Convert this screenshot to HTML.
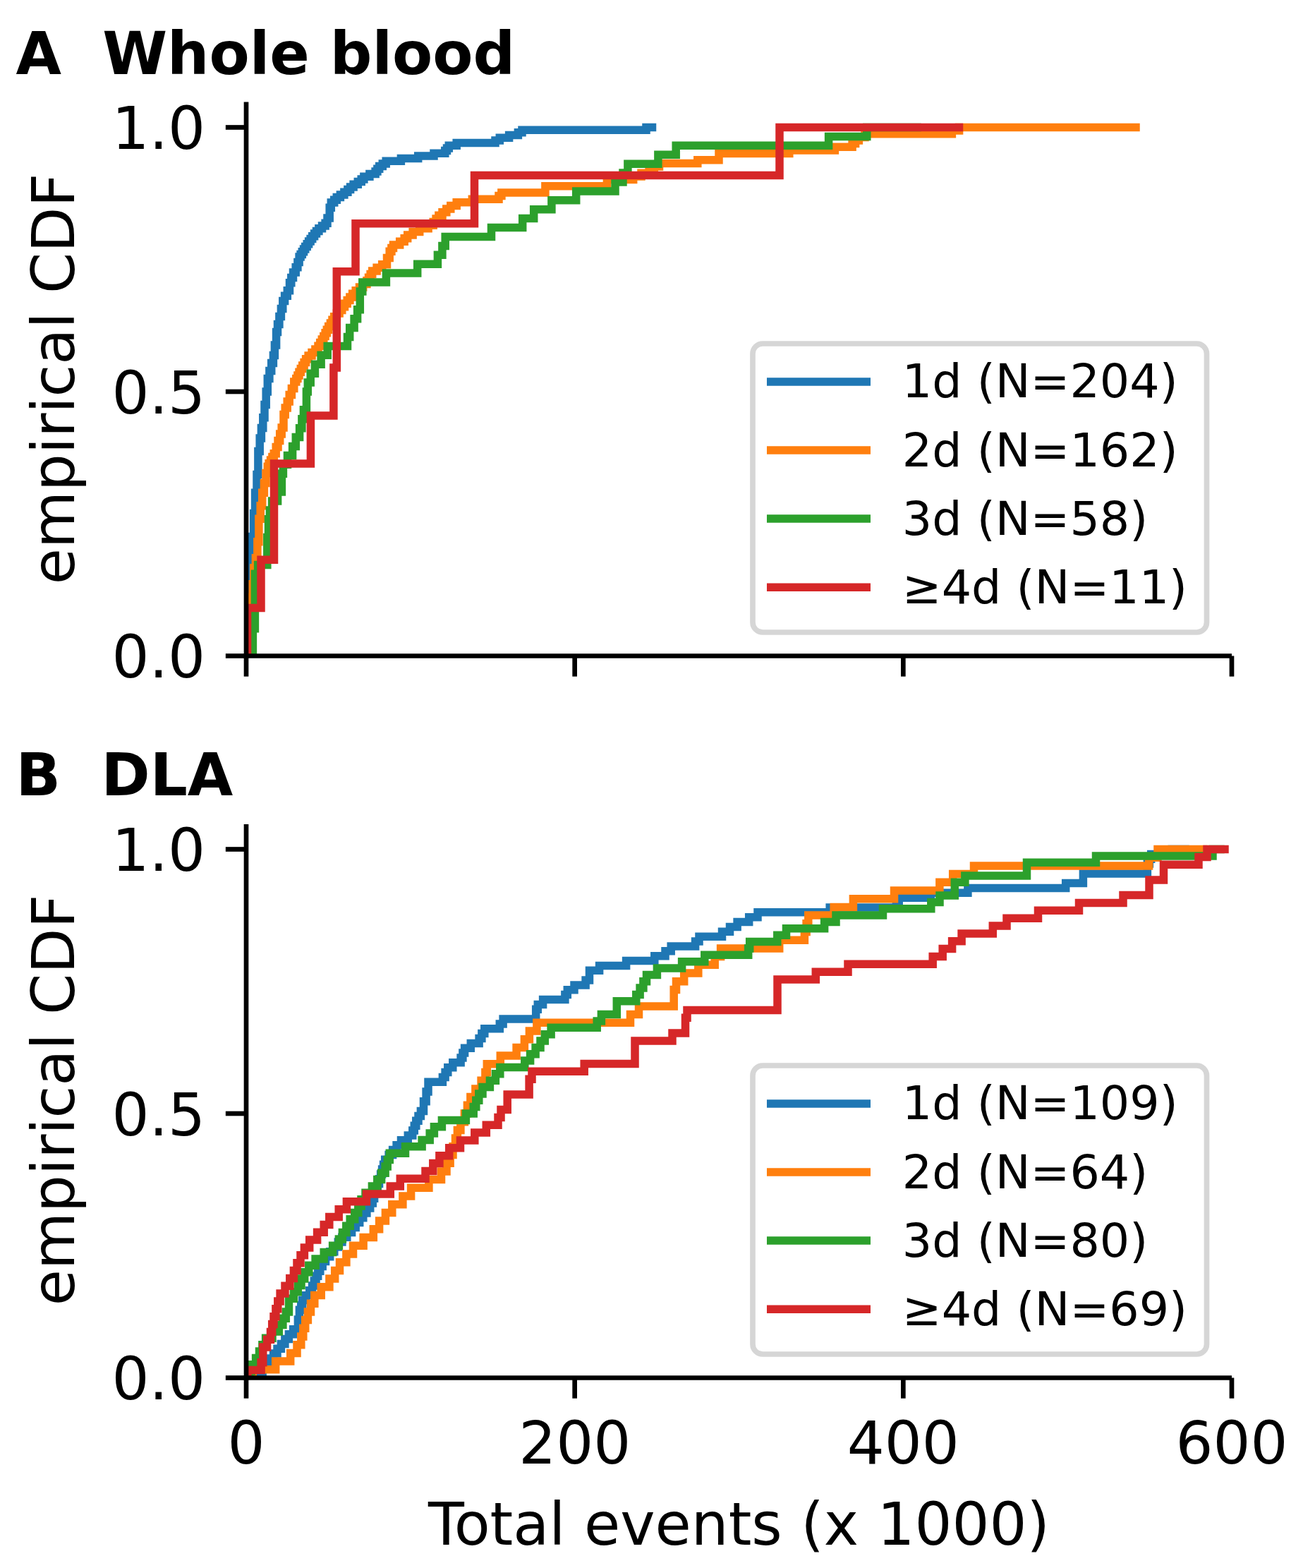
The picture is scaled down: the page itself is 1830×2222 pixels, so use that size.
<!DOCTYPE html>
<html><head><meta charset="utf-8"><title>ECDF</title>
<style>html,body{margin:0;padding:0;background:#fff;} #fig{width:1830px;height:2222px;} svg{display:block;}</style>
</head><body><div id="fig">
<svg width="1830" height="2222" viewBox="0 0 1830 2222">
<rect x="0" y="0" width="1830" height="2222" fill="#ffffff"/>
<clipPath id="clip0"><rect x="349.0" y="144.5" width="1397.0" height="785.0"/></clipPath>
<path d="M350.9,929.5 L350.9,925.8 L350.9,925.8 L350.9,922.2 L350.9,922.2 L350.9,918.5 L350.9,918.5 L350.9,914.8 L350.9,914.8 L350.9,911.1 L350.9,911.1 L350.9,907.5 L350.9,907.5 L350.9,903.8 L350.9,903.8 L350.9,900.1 L350.9,900.1 L350.9,896.5 L350.9,896.5 L350.9,892.8 L350.9,892.8 L350.9,889.1 L350.9,889.1 L350.9,885.4 L350.9,885.4 L350.9,881.8 L350.9,881.8 L350.9,878.1 L350.9,878.1 L350.9,874.4 L350.9,874.4 L350.9,870.8 L350.9,870.8 L350.9,867.1 L350.9,867.1 L350.9,863.4 L350.9,863.4 L350.9,859.7 L350.9,859.7 L350.9,856.1 L350.9,856.1 L350.9,852.4 L353.2,852.4 L353.2,848.7 L353.2,848.7 L353.2,845.1 L353.2,845.1 L353.2,841.4 L353.2,841.4 L353.2,837.7 L353.2,837.7 L353.2,834.0 L353.2,834.0 L353.2,830.4 L353.2,830.4 L353.2,826.7 L353.2,826.7 L353.2,823.0 L355.4,823.0 L355.4,819.4 L355.4,819.4 L355.4,815.7 L355.4,815.7 L355.4,812.0 L355.4,812.0 L355.4,808.3 L355.4,808.3 L355.4,804.7 L355.4,804.7 L355.4,801.0 L355.4,801.0 L355.4,797.3 L355.4,797.3 L355.4,793.7 L357.5,793.7 L357.5,790.0 L357.5,790.0 L357.5,786.3 L357.5,786.3 L357.5,782.6 L357.5,782.6 L357.5,779.0 L357.5,779.0 L357.5,775.3 L357.5,775.3 L357.5,771.6 L357.5,771.6 L357.5,768.0 L357.5,768.0 L357.5,764.3 L357.5,764.3 L357.5,760.6 L359.6,760.6 L359.6,756.9 L359.6,756.9 L359.6,753.3 L359.6,753.3 L359.6,749.6 L359.6,749.6 L359.6,745.9 L359.6,745.9 L359.6,742.2 L359.6,742.2 L359.6,738.6 L359.6,738.6 L359.6,734.9 L359.6,734.9 L359.6,731.2 L359.6,731.2 L359.6,727.6 L361.6,727.6 L361.6,723.9 L361.6,723.9 L361.6,720.2 L361.6,720.2 L361.6,716.5 L361.6,716.5 L361.6,712.9 L361.6,712.9 L361.6,709.2 L361.6,709.2 L361.6,705.5 L361.6,705.5 L361.6,701.9 L361.6,701.9 L361.6,698.2 L364.0,698.2 L364.0,694.5 L364.0,694.5 L364.0,690.8 L364.0,690.8 L364.0,687.2 L364.0,687.2 L364.0,683.5 L364.0,683.5 L364.0,679.8 L364.0,679.8 L364.0,676.2 L364.0,676.2 L364.0,672.5 L365.9,672.5 L365.9,668.8 L365.9,668.8 L365.9,665.1 L365.9,665.1 L365.9,661.5 L365.9,661.5 L365.9,657.8 L365.9,657.8 L365.9,654.1 L365.9,654.1 L365.9,650.5 L365.9,650.5 L365.9,646.8 L365.9,646.8 L365.9,643.1 L365.9,643.1 L365.9,639.4 L368.2,639.4 L368.2,635.8 L368.2,635.8 L368.2,632.1 L368.2,632.1 L368.2,628.4 L368.2,628.4 L368.2,624.8 L368.2,624.8 L368.2,621.1 L370.4,621.1 L370.4,617.4 L370.4,617.4 L370.4,613.7 L370.4,613.7 L370.4,610.1 L370.4,610.1 L370.4,606.4 L372.8,606.4 L372.8,602.7 L372.8,602.7 L372.8,599.1 L372.8,599.1 L372.8,595.4 L372.8,595.4 L372.8,591.7 L375.0,591.7 L375.0,588.0 L375.0,588.0 L375.0,584.4 L375.0,584.4 L375.0,580.7 L375.0,580.7 L375.0,577.0 L375.0,577.0 L375.0,573.4 L377.2,573.4 L377.2,569.7 L377.2,569.7 L377.2,566.0 L377.2,566.0 L377.2,562.3 L377.2,562.3 L377.2,558.7 L377.2,558.7 L377.2,555.0 L379.3,555.0 L379.3,551.3 L379.3,551.3 L379.3,547.7 L379.3,547.7 L379.3,544.0 L379.3,544.0 L379.3,540.3 L379.3,540.3 L379.3,536.6 L381.9,536.6 L381.9,533.0 L381.9,533.0 L381.9,529.3 L381.9,529.3 L381.9,525.6 L384.7,525.6 L384.7,522.0 L384.7,522.0 L384.7,518.3 L384.7,518.3 L384.7,514.6 L387.4,514.6 L387.4,510.9 L387.4,510.9 L387.4,507.3 L387.4,507.3 L387.4,503.6 L389.4,503.6 L389.4,499.9 L389.4,499.9 L389.4,496.3 L389.4,496.3 L389.4,492.6 L389.4,492.6 L389.4,488.9 L391.6,488.9 L391.6,485.2 L391.6,485.2 L391.6,481.6 L391.6,481.6 L391.6,477.9 L391.6,477.9 L391.6,474.2 L391.6,474.2 L391.6,470.6 L393.5,470.6 L393.5,466.9 L393.5,466.9 L393.5,463.2 L393.5,463.2 L393.5,459.5 L395.9,459.5 L395.9,455.9 L395.9,455.9 L395.9,452.2 L395.9,452.2 L395.9,448.5 L398.4,448.5 L398.4,444.9 L398.4,444.9 L398.4,441.2 L398.4,441.2 L398.4,437.5 L400.8,437.5 L400.8,433.8 L400.8,433.8 L400.8,430.2 L400.8,430.2 L400.8,426.5 L403.6,426.5 L403.6,422.8 L403.6,422.8 L403.6,419.2 L407.3,419.2 L407.3,415.5 L407.3,415.5 L407.3,411.8 L410.5,411.8 L410.5,408.1 L410.5,408.1 L410.5,404.5 L410.5,404.5 L410.5,400.8 L412.8,400.8 L412.8,397.1 L412.8,397.1 L412.8,393.5 L415.5,393.5 L415.5,389.8 L415.5,389.8 L415.5,386.1 L419.2,386.1 L419.2,382.4 L419.2,382.4 L419.2,378.8 L421.9,378.8 L421.9,375.1 L421.9,375.1 L421.9,371.4 L424.1,371.4 L424.1,367.8 L424.1,367.8 L424.1,364.1 L426.1,364.1 L426.1,360.4 L428.3,360.4 L428.3,356.7 L430.5,356.7 L430.5,353.1 L432.7,353.1 L432.7,349.4 L435.2,349.4 L435.2,345.7 L437.6,345.7 L437.6,342.0 L440.1,342.0 L440.1,338.4 L442.7,338.4 L442.7,334.7 L445.6,334.7 L445.6,331.0 L448.5,331.0 L448.5,327.4 L451.9,327.4 L451.9,323.7 L456.5,323.7 L456.5,320.0 L461.1,320.0 L461.1,316.3 L464.0,316.3 L464.0,312.7 L464.0,312.7 L464.0,309.0 L467.2,309.0 L467.2,305.3 L467.2,305.3 L467.2,301.7 L467.2,301.7 L467.2,298.0 L467.2,298.0 L467.2,294.3 L469.3,294.3 L469.3,290.6 L469.3,290.6 L469.3,287.0 L473.7,287.0 L473.7,283.3 L477.3,283.3 L477.3,279.6 L482.4,279.6 L482.4,276.0 L487.9,276.0 L487.9,272.3 L492.9,272.3 L492.9,268.6 L496.6,268.6 L496.6,264.9 L501.1,264.9 L501.1,261.3 L507.3,261.3 L507.3,257.6 L512.2,257.6 L512.2,253.9 L515.9,253.9 L515.9,250.3 L523.9,250.3 L523.9,246.6 L532.1,246.6 L532.1,242.9 L534.9,242.9 L534.9,239.2 L537.7,239.2 L537.7,235.6 L542.3,235.6 L542.3,231.9 L547.2,231.9 L547.2,228.2 L568.4,228.2 L568.4,224.6 L592.7,224.6 L592.7,220.9 L615.0,220.9 L615.0,217.2 L630.8,217.2 L630.8,213.5 L633.5,213.5 L633.5,209.9 L636.3,209.9 L636.3,206.2 L647.2,206.2 L647.2,202.5 L702.0,202.5 L702.0,198.9 L708.3,198.9 L708.3,195.2 L721.6,195.2 L721.6,191.5 L734.4,191.5 L734.4,187.8 L740.0,187.8 L740.0,184.2 L916.0,184.2 L916.0,180.5 L924.5,180.5" fill="none" stroke="#1f77b4" stroke-width="11.5" stroke-linejoin="miter" stroke-miterlimit="10" stroke-linecap="square" clip-path="url(#clip0)"/>
<path d="M352.8,929.5 L352.8,924.9 L352.8,924.9 L352.8,920.3 L352.8,920.3 L352.8,915.6 L352.8,915.6 L352.8,911.0 L352.8,911.0 L352.8,906.4 L352.8,906.4 L352.8,901.8 L352.8,901.8 L352.8,897.1 L352.8,897.1 L352.8,892.5 L352.8,892.5 L352.8,887.9 L352.8,887.9 L352.8,883.3 L352.8,883.3 L352.8,878.6 L352.8,878.6 L352.8,874.0 L352.8,874.0 L352.8,869.4 L352.8,869.4 L352.8,864.8 L355.1,864.8 L355.1,860.1 L355.1,860.1 L355.1,855.5 L355.1,855.5 L355.1,850.9 L355.1,850.9 L355.1,846.3 L358.0,846.3 L358.0,841.7 L358.0,841.7 L358.0,837.0 L358.0,837.0 L358.0,832.4 L358.0,832.4 L358.0,827.8 L359.8,827.8 L359.8,823.2 L359.8,823.2 L359.8,818.5 L359.8,818.5 L359.8,813.9 L359.8,813.9 L359.8,809.3 L359.8,809.3 L359.8,804.7 L362.4,804.7 L362.4,800.0 L362.4,800.0 L362.4,795.4 L362.4,795.4 L362.4,790.8 L364.9,790.8 L364.9,786.2 L364.9,786.2 L364.9,781.5 L364.9,781.5 L364.9,776.9 L364.9,776.9 L364.9,772.3 L364.9,772.3 L364.9,767.7 L366.9,767.7 L366.9,763.1 L366.9,763.1 L366.9,758.4 L366.9,758.4 L366.9,753.8 L366.9,753.8 L366.9,749.2 L366.9,749.2 L366.9,744.6 L366.9,744.6 L366.9,739.9 L366.9,739.9 L366.9,735.3 L369.2,735.3 L369.2,730.7 L369.2,730.7 L369.2,726.1 L369.2,726.1 L369.2,721.4 L369.2,721.4 L369.2,716.8 L371.7,716.8 L371.7,712.2 L371.7,712.2 L371.7,707.6 L371.7,707.6 L371.7,703.0 L371.7,703.0 L371.7,698.3 L374.4,698.3 L374.4,693.7 L374.4,693.7 L374.4,689.1 L374.4,689.1 L374.4,684.5 L377.0,684.5 L377.0,679.8 L377.0,679.8 L377.0,675.2 L377.0,675.2 L377.0,670.6 L379.3,670.6 L379.3,666.0 L379.3,666.0 L379.3,661.3 L381.1,661.3 L381.1,656.7 L383.5,656.7 L383.5,652.1 L385.9,652.1 L385.9,647.5 L388.3,647.5 L388.3,642.8 L391.2,642.8 L391.2,638.2 L391.2,638.2 L391.2,633.6 L394.0,633.6 L394.0,629.0 L394.0,629.0 L394.0,624.4 L396.7,624.4 L396.7,619.7 L396.7,619.7 L396.7,615.1 L399.2,615.1 L399.2,610.5 L399.2,610.5 L399.2,605.9 L402.0,605.9 L402.0,601.2 L402.0,601.2 L402.0,596.6 L402.0,596.6 L402.0,592.0 L402.0,592.0 L402.0,587.4 L404.2,587.4 L404.2,582.7 L404.2,582.7 L404.2,578.1 L407.2,578.1 L407.2,573.5 L407.2,573.5 L407.2,568.9 L410.2,568.9 L410.2,564.2 L410.2,564.2 L410.2,559.6 L413.4,559.6 L413.4,555.0 L413.4,555.0 L413.4,550.4 L416.8,550.4 L416.8,545.8 L416.8,545.8 L416.8,541.1 L419.8,541.1 L419.8,536.5 L421.9,536.5 L421.9,531.9 L424.0,531.9 L424.0,527.3 L426.3,527.3 L426.3,522.6 L428.7,522.6 L428.7,518.0 L431.1,518.0 L431.1,513.4 L433.6,513.4 L433.6,508.8 L437.1,508.8 L437.1,504.1 L442.0,504.1 L442.0,499.5 L446.9,499.5 L446.9,494.9 L451.0,494.9 L451.0,490.3 L453.7,490.3 L453.7,485.6 L456.3,485.6 L456.3,481.0 L458.8,481.0 L458.8,476.4 L461.1,476.4 L461.1,471.8 L463.3,471.8 L463.3,467.2 L465.7,467.2 L465.7,462.5 L468.4,462.5 L468.4,457.9 L471.0,457.9 L471.0,453.3 L473.7,453.3 L473.7,448.7 L477.4,448.7 L477.4,444.0 L481.1,444.0 L481.1,439.4 L484.8,439.4 L484.8,434.8 L488.5,434.8 L488.5,430.2 L492.2,430.2 L492.2,425.5 L495.9,425.5 L495.9,420.9 L499.6,420.9 L499.6,416.3 L504.2,416.3 L504.2,411.7 L509.5,411.7 L509.5,407.0 L514.7,407.0 L514.7,402.4 L519.9,402.4 L519.9,397.8 L522.5,397.8 L522.5,393.2 L525.1,393.2 L525.1,388.6 L527.7,388.6 L527.7,383.9 L534.1,383.9 L534.1,379.3 L541.7,379.3 L541.7,374.7 L548.5,374.7 L548.5,370.1 L548.5,370.1 L548.5,365.4 L552.2,365.4 L552.2,360.8 L552.2,360.8 L552.2,356.2 L554.9,356.2 L554.9,351.6 L557.5,351.6 L557.5,346.9 L566.7,346.9 L566.7,342.3 L573.2,342.3 L573.2,337.7 L577.7,337.7 L577.7,333.1 L585.1,333.1 L585.1,328.5 L594.7,328.5 L594.7,323.8 L607.1,323.8 L607.1,319.2 L614.2,319.2 L614.2,314.6 L618.1,314.6 L618.1,310.0 L621.9,310.0 L621.9,305.3 L627.0,305.3 L627.0,300.7 L632.8,300.7 L632.8,296.1 L638.8,296.1 L638.8,291.5 L647.2,291.5 L647.2,286.8 L669.3,286.8 L669.3,282.2 L707.0,282.2 L707.0,277.6 L710.9,277.6 L710.9,273.0 L772.9,273.0 L772.9,268.3 L772.9,268.3 L772.9,263.7 L860.4,263.7 L860.4,259.1 L860.4,259.1 L860.4,254.5 L897.7,254.5 L897.7,249.9 L909.0,249.9 L909.0,245.2 L920.1,245.2 L920.1,240.6 L927.3,240.6 L927.3,236.0 L934.5,236.0 L934.5,231.4 L988.8,231.4 L988.8,226.7 L1019.0,226.7 L1019.0,222.1 L1019.0,222.1 L1019.0,217.5 L1118.8,217.5 L1118.8,212.9 L1183.4,212.9 L1183.4,208.2 L1208.1,208.2 L1208.1,203.6 L1212.6,203.6 L1212.6,199.0 L1217.4,199.0 L1217.4,194.4 L1226.0,194.4 L1226.0,189.7 L1349.4,189.7 L1349.4,185.1 L1359.6,185.1 L1359.6,180.5 L1610.0,180.5" fill="none" stroke="#ff7f0e" stroke-width="11.5" stroke-linejoin="miter" stroke-miterlimit="10" stroke-linecap="square" clip-path="url(#clip0)"/>
<path d="M358.4,929.5 L358.4,916.6 L358.4,916.6 L358.4,903.7 L358.4,903.7 L358.4,890.8 L361.4,890.8 L361.4,877.8 L361.4,877.8 L361.4,864.9 L361.4,864.9 L361.4,852.0 L361.4,852.0 L361.4,839.1 L361.4,839.1 L361.4,826.2 L361.4,826.2 L361.4,813.3 L365.6,813.3 L365.6,800.4 L378.8,800.4 L378.8,787.4 L378.8,787.4 L378.8,774.5 L378.8,774.5 L378.8,761.6 L380.5,761.6 L380.5,748.7 L380.5,748.7 L380.5,735.8 L382.4,735.8 L382.4,722.9 L385.6,722.9 L385.6,710.0 L393.6,710.0 L393.6,697.1 L399.4,697.1 L399.4,684.1 L399.4,684.1 L399.4,671.2 L401.4,671.2 L401.4,658.3 L407.5,658.3 L407.5,645.4 L414.6,645.4 L414.6,632.5 L419.3,632.5 L419.3,619.6 L424.6,619.6 L424.6,606.7 L427.9,606.7 L427.9,593.7 L430.4,593.7 L430.4,580.8 L434.4,580.8 L434.4,567.9 L434.4,567.9 L434.4,555.0 L436.3,555.0 L436.3,542.1 L440.2,542.1 L440.2,529.2 L446.4,529.2 L446.4,516.3 L455.1,516.3 L455.1,503.3 L464.2,503.3 L464.2,490.4 L492.5,490.4 L492.5,477.5 L495.7,477.5 L495.7,464.6 L502.1,464.6 L502.1,451.7 L506.6,451.7 L506.6,438.8 L510.3,438.8 L510.3,425.9 L510.3,425.9 L510.3,412.9 L513.8,412.9 L513.8,400.0 L547.4,400.0 L547.4,387.1 L591.7,387.1 L591.7,374.2 L620.4,374.2 L620.4,361.3 L626.9,361.3 L626.9,348.4 L631.2,348.4 L631.2,335.5 L696.5,335.5 L696.5,322.6 L740.7,322.6 L740.7,309.6 L756.7,309.6 L756.7,296.7 L781.9,296.7 L781.9,283.8 L816.7,283.8 L816.7,270.9 L872.0,270.9 L872.0,258.0 L883.0,258.0 L883.0,245.1 L889.9,245.1 L889.9,232.2 L932.9,232.2 L932.9,219.2 L958.2,219.2 L958.2,206.3 L1174.6,206.3 L1174.6,193.4 L1228.8,193.4 L1228.8,180.5 L1300.0,180.5" fill="none" stroke="#2ca02c" stroke-width="11.5" stroke-linejoin="miter" stroke-miterlimit="10" stroke-linecap="square" clip-path="url(#clip0)"/>
<path d="M350.5,929.5 L350.5,861.4 L370.0,861.4 L370.0,793.3 L388.5,793.3 L388.5,657.1 L440.4,657.1 L440.4,589.0 L472.9,589.0 L472.9,521.0 L477.3,521.0 L477.3,384.8 L504.0,384.8 L504.0,316.7 L672.5,316.7 L672.5,248.6 L1105.0,248.6 L1105.0,180.5 L1359.5,180.5" fill="none" stroke="#d62728" stroke-width="11.5" stroke-linejoin="miter" stroke-miterlimit="10" stroke-linecap="square" clip-path="url(#clip0)"/>
<line x1="349.0" y1="144.5" x2="349.0" y2="932.835" stroke="#000" stroke-width="6.67"/>
<line x1="345.665" y1="929.5" x2="1746.0" y2="929.5" stroke="#000" stroke-width="6.67"/>
<line x1="319.83" y1="929.5" x2="349.0" y2="929.5" stroke="#000" stroke-width="6.67"/>
<text x="291.05999999999995" y="960.0" font-family="'DejaVu Sans', 'Liberation Sans', sans-serif" font-size="83.33" text-anchor="end" fill="#000">0.0</text>
<line x1="319.83" y1="555.0" x2="349.0" y2="555.0" stroke="#000" stroke-width="6.67"/>
<text x="291.05999999999995" y="585.5" font-family="'DejaVu Sans', 'Liberation Sans', sans-serif" font-size="83.33" text-anchor="end" fill="#000">0.5</text>
<line x1="319.83" y1="180.5" x2="349.0" y2="180.5" stroke="#000" stroke-width="6.67"/>
<text x="291.05999999999995" y="211.0" font-family="'DejaVu Sans', 'Liberation Sans', sans-serif" font-size="83.33" text-anchor="end" fill="#000">1.0</text>
<line x1="349.0" y1="929.5" x2="349.0" y2="958.67" stroke="#000" stroke-width="6.67"/>
<line x1="814.6666666666667" y1="929.5" x2="814.6666666666667" y2="958.67" stroke="#000" stroke-width="6.67"/>
<line x1="1280.3333333333335" y1="929.5" x2="1280.3333333333335" y2="958.67" stroke="#000" stroke-width="6.67"/>
<line x1="1746.0" y1="929.5" x2="1746.0" y2="958.67" stroke="#000" stroke-width="6.67"/>
<text transform="translate(105.4,537.0) rotate(-90)" x="0" y="0" font-family="'DejaVu Sans', 'Liberation Sans', sans-serif" font-size="83.33" text-anchor="middle" fill="#000">empirical CDF</text>
<text x="22.6" y="104.8" font-family="'DejaVu Sans', 'Liberation Sans', sans-serif" font-size="83.33" font-weight="bold" fill="#000">A</text>
<text x="145.2" y="104.8" font-family="'DejaVu Sans', 'Liberation Sans', sans-serif" font-size="83.33" font-weight="bold" fill="#000">Whole blood</text>
<rect x="1067" y="487.0" width="643.5" height="409.0" rx="14" ry="14" fill="#ffffff" fill-opacity="0.8" stroke="#d6d6d6" stroke-width="7.67"/>
<line x1="1087" y1="540.9" x2="1234" y2="540.9" stroke="#1f77b4" stroke-width="11.5"/>
<text x="1278.8" y="563.4" font-family="'DejaVu Sans', 'Liberation Sans', sans-serif" font-size="66.67" fill="#000">1d (N=204)</text>
<line x1="1087" y1="638.0" x2="1234" y2="638.0" stroke="#ff7f0e" stroke-width="11.5"/>
<text x="1278.8" y="660.5" font-family="'DejaVu Sans', 'Liberation Sans', sans-serif" font-size="66.67" fill="#000">2d (N=162)</text>
<line x1="1087" y1="735.0999999999999" x2="1234" y2="735.0999999999999" stroke="#2ca02c" stroke-width="11.5"/>
<text x="1278.8" y="757.5999999999999" font-family="'DejaVu Sans', 'Liberation Sans', sans-serif" font-size="66.67" fill="#000">3d (N=58)</text>
<line x1="1087" y1="832.1999999999999" x2="1234" y2="832.1999999999999" stroke="#d62728" stroke-width="11.5"/>
<text x="1278.8" y="854.6999999999999" font-family="'DejaVu Sans', 'Liberation Sans', sans-serif" font-size="66.67" fill="#000">≥4d (N=11)</text>
<clipPath id="clip1"><rect x="349.0" y="1168.0" width="1397.0" height="784.5"/></clipPath>
<path d="M365.7,1952.5 L365.7,1945.6 L372.2,1945.6 L372.2,1938.8 L377.7,1938.8 L377.7,1931.9 L382.2,1931.9 L382.2,1925.0 L387.6,1925.0 L387.6,1918.1 L393.0,1918.1 L393.0,1911.3 L398.4,1911.3 L398.4,1904.4 L403.9,1904.4 L403.9,1897.5 L409.4,1897.5 L409.4,1890.7 L415.6,1890.7 L415.6,1883.8 L422.4,1883.8 L422.4,1876.9 L422.4,1876.9 L422.4,1870.0 L424.4,1870.0 L424.4,1863.2 L424.4,1863.2 L424.4,1856.3 L426.7,1856.3 L426.7,1849.4 L428.7,1849.4 L428.7,1842.6 L433.2,1842.6 L433.2,1835.7 L438.7,1835.7 L438.7,1828.8 L442.5,1828.8 L442.5,1821.9 L445.3,1821.9 L445.3,1815.1 L448.0,1815.1 L448.0,1808.2 L450.7,1808.2 L450.7,1801.3 L453.8,1801.3 L453.8,1794.5 L457.2,1794.5 L457.2,1787.6 L461.5,1787.6 L461.5,1780.7 L467.7,1780.7 L467.7,1773.8 L473.8,1773.8 L473.8,1767.0 L479.3,1767.0 L479.3,1760.1 L484.9,1760.1 L484.9,1753.2 L491.8,1753.2 L491.8,1746.4 L498.6,1746.4 L498.6,1739.5 L504.2,1739.5 L504.2,1732.6 L509.7,1732.6 L509.7,1725.7 L514.8,1725.7 L514.8,1718.9 L519.9,1718.9 L519.9,1712.0 L524.7,1712.0 L524.7,1705.1 L528.3,1705.1 L528.3,1698.3 L530.6,1698.3 L530.6,1691.4 L533.0,1691.4 L533.0,1684.5 L535.3,1684.5 L535.3,1677.6 L537.5,1677.6 L537.5,1670.8 L539.6,1670.8 L539.6,1663.9 L541.6,1663.9 L541.6,1657.0 L543.6,1657.0 L543.6,1650.2 L545.7,1650.2 L545.7,1643.3 L551.1,1643.3 L551.1,1636.4 L556.6,1636.4 L556.6,1629.5 L562.1,1629.5 L562.1,1622.7 L568.5,1622.7 L568.5,1615.8 L578.3,1615.8 L578.3,1608.9 L584.8,1608.9 L584.8,1602.1 L587.3,1602.1 L587.3,1595.2 L589.8,1595.2 L589.8,1588.3 L593.0,1588.3 L593.0,1581.4 L596.4,1581.4 L596.4,1574.6 L600.5,1574.6 L600.5,1567.7 L600.5,1567.7 L600.5,1560.8 L604.1,1560.8 L604.1,1553.9 L604.1,1553.9 L604.1,1547.1 L607.0,1547.1 L607.0,1540.2 L607.0,1540.2 L607.0,1533.3 L627.4,1533.3 L627.4,1526.5 L631.1,1526.5 L631.1,1519.6 L634.8,1519.6 L634.8,1512.7 L641.8,1512.7 L641.8,1505.8 L653.1,1505.8 L653.1,1499.0 L655.9,1499.0 L655.9,1492.1 L658.6,1492.1 L658.6,1485.2 L667.3,1485.2 L667.3,1478.4 L679.1,1478.4 L679.1,1471.5 L682.9,1471.5 L682.9,1464.6 L686.8,1464.6 L686.8,1457.7 L708.3,1457.7 L708.3,1450.9 L713.1,1450.9 L713.1,1444.0 L759.7,1444.0 L759.7,1437.1 L759.7,1437.1 L759.7,1430.3 L762.3,1430.3 L762.3,1423.4 L769.6,1423.4 L769.6,1416.5 L800.9,1416.5 L800.9,1409.6 L804.3,1409.6 L804.3,1402.8 L814.0,1402.8 L814.0,1395.9 L830.1,1395.9 L830.1,1389.0 L835.5,1389.0 L835.5,1382.2 L835.5,1382.2 L835.5,1375.3 L849.6,1375.3 L849.6,1368.4 L887.6,1368.4 L887.6,1361.5 L927.8,1361.5 L927.8,1354.7 L943.0,1354.7 L943.0,1347.8 L951.2,1347.8 L951.2,1340.9 L985.6,1340.9 L985.6,1334.1 L991.0,1334.1 L991.0,1327.2 L1023.5,1327.2 L1023.5,1320.3 L1034.5,1320.3 L1034.5,1313.4 L1045.1,1313.4 L1045.1,1306.6 L1061.7,1306.6 L1061.7,1299.7 L1074.0,1299.7 L1074.0,1292.8 L1176.2,1292.8 L1176.2,1286.0 L1270.4,1286.0 L1270.4,1279.1 L1274.2,1279.1 L1274.2,1272.2 L1319.4,1272.2 L1319.4,1265.3 L1371.9,1265.3 L1371.9,1258.5 L1510.7,1258.5 L1510.7,1251.6 L1535.4,1251.6 L1535.4,1244.7 L1535.4,1244.7 L1535.4,1237.9 L1626.4,1237.9 L1626.4,1231.0 L1626.4,1231.0 L1626.4,1224.1 L1629.4,1224.1 L1629.4,1217.2 L1631.7,1217.2 L1631.7,1210.4 L1661.3,1210.4 L1661.3,1203.5 L1680.0,1203.5" fill="none" stroke="#1f77b4" stroke-width="11.5" stroke-linejoin="miter" stroke-miterlimit="10" stroke-linecap="square" clip-path="url(#clip1)"/>
<path d="M358.2,1952.5 L358.2,1940.8 L390.7,1940.8 L390.7,1929.1 L411.7,1929.1 L411.7,1917.4 L421.0,1917.4 L421.0,1905.7 L426.8,1905.7 L426.8,1894.0 L429.8,1894.0 L429.8,1882.3 L432.7,1882.3 L432.7,1870.6 L436.4,1870.6 L436.4,1858.9 L440.5,1858.9 L440.5,1847.2 L445.8,1847.2 L445.8,1835.5 L455.2,1835.5 L455.2,1823.8 L466.9,1823.8 L466.9,1812.1 L474.7,1812.1 L474.7,1800.4 L481.5,1800.4 L481.5,1788.7 L490.9,1788.7 L490.9,1777.0 L500.5,1777.0 L500.5,1765.2 L515.1,1765.2 L515.1,1753.5 L529.3,1753.5 L529.3,1741.8 L537.6,1741.8 L537.6,1730.1 L546.4,1730.1 L546.4,1718.4 L555.8,1718.4 L555.8,1706.7 L570.9,1706.7 L570.9,1695.0 L582.6,1695.0 L582.6,1683.3 L607.9,1683.3 L607.9,1671.6 L625.5,1671.6 L625.5,1659.9 L633.0,1659.9 L633.0,1648.2 L638.1,1648.2 L638.1,1636.5 L642.0,1636.5 L642.0,1624.8 L645.5,1624.8 L645.5,1613.1 L648.4,1613.1 L648.4,1601.4 L652.9,1601.4 L652.9,1589.7 L658.4,1589.7 L658.4,1578.0 L662.4,1578.0 L662.4,1566.3 L666.9,1566.3 L666.9,1554.6 L673.9,1554.6 L673.9,1542.9 L682.1,1542.9 L682.1,1531.2 L687.9,1531.2 L687.9,1519.5 L690.3,1519.5 L690.3,1507.8 L709.3,1507.8 L709.3,1496.1 L732.1,1496.1 L732.1,1484.4 L743.4,1484.4 L743.4,1472.7 L750.4,1472.7 L750.4,1461.0 L760.9,1461.0 L760.9,1449.3 L893.5,1449.3 L893.5,1437.6 L905.5,1437.6 L905.5,1425.9 L955.2,1425.9 L955.2,1414.2 L955.2,1414.2 L955.2,1402.5 L958.5,1402.5 L958.5,1390.8 L969.7,1390.8 L969.7,1379.0 L989.8,1379.0 L989.8,1367.3 L1013.2,1367.3 L1013.2,1355.6 L1021.6,1355.6 L1021.6,1343.9 L1104.7,1343.9 L1104.7,1332.2 L1140.4,1332.2 L1140.4,1320.5 L1143.1,1320.5 L1143.1,1308.8 L1145.8,1308.8 L1145.8,1297.1 L1182.2,1297.1 L1182.2,1285.4 L1209.4,1285.4 L1209.4,1273.7 L1267.5,1273.7 L1267.5,1262.0 L1331.9,1262.0 L1331.9,1250.3 L1350.7,1250.3 L1350.7,1238.6 L1380.5,1238.6 L1380.5,1226.9 L1628.6,1226.9 L1628.6,1215.2 L1641.0,1215.2 L1641.0,1203.5 L1706.0,1203.5" fill="none" stroke="#ff7f0e" stroke-width="11.5" stroke-linejoin="miter" stroke-miterlimit="10" stroke-linecap="square" clip-path="url(#clip1)"/>
<path d="M353.7,1952.5 L353.7,1943.1 L356.2,1943.1 L356.2,1933.8 L362.6,1933.8 L362.6,1924.4 L367.5,1924.4 L367.5,1915.0 L371.9,1915.0 L371.9,1905.7 L376.6,1905.7 L376.6,1896.3 L386.0,1896.3 L386.0,1887.0 L395.3,1887.0 L395.3,1877.6 L400.9,1877.6 L400.9,1868.2 L405.3,1868.2 L405.3,1858.9 L409.5,1858.9 L409.5,1849.5 L409.5,1849.5 L409.5,1840.2 L416.5,1840.2 L416.5,1830.8 L422.3,1830.8 L422.3,1821.4 L427.0,1821.4 L427.0,1812.1 L431.7,1812.1 L431.7,1802.7 L437.8,1802.7 L437.8,1793.3 L447.1,1793.3 L447.1,1784.0 L459.2,1784.0 L459.2,1774.6 L471.6,1774.6 L471.6,1765.2 L480.4,1765.2 L480.4,1755.9 L485.4,1755.9 L485.4,1746.5 L490.8,1746.5 L490.8,1737.2 L496.2,1737.2 L496.2,1727.8 L502.7,1727.8 L502.7,1718.4 L507.8,1718.4 L507.8,1709.1 L512.0,1709.1 L512.0,1699.7 L518.0,1699.7 L518.0,1690.3 L527.4,1690.3 L527.4,1681.0 L534.8,1681.0 L534.8,1671.6 L540.6,1671.6 L540.6,1662.3 L546.1,1662.3 L546.1,1652.9 L549.2,1652.9 L549.2,1643.5 L552.3,1643.5 L552.3,1634.2 L574.5,1634.2 L574.5,1624.8 L598.1,1624.8 L598.1,1615.5 L609.2,1615.5 L609.2,1606.1 L615.4,1606.1 L615.4,1596.7 L626.4,1596.7 L626.4,1587.4 L660.4,1587.4 L660.4,1578.0 L671.2,1578.0 L671.2,1568.6 L674.8,1568.6 L674.8,1559.3 L678.8,1559.3 L678.8,1549.9 L684.0,1549.9 L684.0,1540.5 L694.4,1540.5 L694.4,1531.2 L702.4,1531.2 L702.4,1521.8 L708.8,1521.8 L708.8,1512.5 L743.8,1512.5 L743.8,1503.1 L751.6,1503.1 L751.6,1493.7 L759.1,1493.7 L759.1,1484.4 L766.0,1484.4 L766.0,1475.0 L772.3,1475.0 L772.3,1465.7 L781.1,1465.7 L781.1,1456.3 L846.2,1456.3 L846.2,1446.9 L852.4,1446.9 L852.4,1437.6 L874.3,1437.6 L874.3,1428.2 L874.3,1428.2 L874.3,1418.8 L901.8,1418.8 L901.8,1409.5 L907.1,1409.5 L907.1,1400.1 L911.9,1400.1 L911.9,1390.8 L916.5,1390.8 L916.5,1381.4 L931.4,1381.4 L931.4,1372.0 L966.6,1372.0 L966.6,1362.7 L998.8,1362.7 L998.8,1353.3 L1060.7,1353.3 L1060.7,1343.9 L1062.7,1343.9 L1062.7,1334.6 L1101.8,1334.6 L1101.8,1325.2 L1114.5,1325.2 L1114.5,1315.8 L1168.6,1315.8 L1168.6,1306.5 L1185.0,1306.5 L1185.0,1297.1 L1251.5,1297.1 L1251.5,1287.8 L1319.8,1287.8 L1319.8,1278.4 L1332.0,1278.4 L1332.0,1269.0 L1353.3,1269.0 L1353.3,1259.7 L1353.3,1259.7 L1353.3,1250.3 L1367.9,1250.3 L1367.9,1241.0 L1455.5,1241.0 L1455.5,1231.6 L1455.5,1231.6 L1455.5,1222.2 L1553.5,1222.2 L1553.5,1212.9 L1719.0,1212.9 L1719.0,1203.5 L1730.0,1203.5" fill="none" stroke="#2ca02c" stroke-width="11.5" stroke-linejoin="miter" stroke-miterlimit="10" stroke-linecap="square" clip-path="url(#clip1)"/>
<path d="M350.9,1952.5 L350.9,1941.6 L370.1,1941.6 L370.1,1930.8 L372.8,1930.8 L372.8,1919.9 L372.8,1919.9 L372.8,1909.1 L378.6,1909.1 L378.6,1898.2 L383.5,1898.2 L383.5,1887.4 L385.7,1887.4 L385.7,1876.5 L388.0,1876.5 L388.0,1865.7 L390.9,1865.7 L390.9,1854.8 L393.8,1854.8 L393.8,1843.9 L397.1,1843.9 L397.1,1833.1 L404.0,1833.1 L404.0,1822.2 L410.8,1822.2 L410.8,1811.4 L416.4,1811.4 L416.4,1800.5 L421.0,1800.5 L421.0,1789.7 L426.0,1789.7 L426.0,1778.8 L431.4,1778.8 L431.4,1768.0 L438.7,1768.0 L438.7,1757.1 L449.6,1757.1 L449.6,1746.3 L459.2,1746.3 L459.2,1735.4 L466.8,1735.4 L466.8,1724.5 L480.2,1724.5 L480.2,1713.7 L491.4,1713.7 L491.4,1702.8 L519.5,1702.8 L519.5,1692.0 L553.3,1692.0 L553.3,1681.1 L567.3,1681.1 L567.3,1670.3 L603.0,1670.3 L603.0,1659.4 L613.8,1659.4 L613.8,1648.6 L622.9,1648.6 L622.9,1637.7 L636.7,1637.7 L636.7,1626.8 L652.5,1626.8 L652.5,1616.0 L672.8,1616.0 L672.8,1605.1 L689.3,1605.1 L689.3,1594.3 L706.0,1594.3 L706.0,1583.4 L710.0,1583.4 L710.0,1572.6 L719.2,1572.6 L719.2,1561.7 L719.2,1561.7 L719.2,1550.9 L750.1,1550.9 L750.1,1540.0 L750.1,1540.0 L750.1,1529.2 L754.0,1529.2 L754.0,1518.3 L828.2,1518.3 L828.2,1507.4 L900.0,1507.4 L900.0,1496.6 L900.0,1496.6 L900.0,1485.7 L900.0,1485.7 L900.0,1474.9 L953.0,1474.9 L953.0,1464.0 L971.5,1464.0 L971.5,1453.2 L971.5,1453.2 L971.5,1442.3 L974.0,1442.3 L974.0,1431.5 L1102.0,1431.5 L1102.0,1420.6 L1102.0,1420.6 L1102.0,1409.7 L1102.0,1409.7 L1102.0,1398.9 L1102.0,1398.9 L1102.0,1388.0 L1156.3,1388.0 L1156.3,1377.2 L1202.0,1377.2 L1202.0,1366.3 L1322.2,1366.3 L1322.2,1355.5 L1336.2,1355.5 L1336.2,1344.6 L1349.6,1344.6 L1349.6,1333.8 L1363.1,1333.8 L1363.1,1322.9 L1407.3,1322.9 L1407.3,1312.1 L1427.0,1312.1 L1427.0,1301.2 L1471.5,1301.2 L1471.5,1290.3 L1529.5,1290.3 L1529.5,1279.5 L1592.0,1279.5 L1592.0,1268.6 L1629.0,1268.6 L1629.0,1257.8 L1629.0,1257.8 L1629.0,1246.9 L1649.5,1246.9 L1649.5,1236.1 L1649.5,1236.1 L1649.5,1225.2 L1699.0,1225.2 L1699.0,1214.4 L1711.0,1214.4 L1711.0,1203.5 L1736.0,1203.5" fill="none" stroke="#d62728" stroke-width="11.5" stroke-linejoin="miter" stroke-miterlimit="10" stroke-linecap="square" clip-path="url(#clip1)"/>
<line x1="349.0" y1="1168.0" x2="349.0" y2="1955.835" stroke="#000" stroke-width="6.67"/>
<line x1="345.665" y1="1952.5" x2="1746.0" y2="1952.5" stroke="#000" stroke-width="6.67"/>
<line x1="319.83" y1="1952.5" x2="349.0" y2="1952.5" stroke="#000" stroke-width="6.67"/>
<text x="291.05999999999995" y="1983.0" font-family="'DejaVu Sans', 'Liberation Sans', sans-serif" font-size="83.33" text-anchor="end" fill="#000">0.0</text>
<line x1="319.83" y1="1578.0" x2="349.0" y2="1578.0" stroke="#000" stroke-width="6.67"/>
<text x="291.05999999999995" y="1608.5" font-family="'DejaVu Sans', 'Liberation Sans', sans-serif" font-size="83.33" text-anchor="end" fill="#000">0.5</text>
<line x1="319.83" y1="1203.5" x2="349.0" y2="1203.5" stroke="#000" stroke-width="6.67"/>
<text x="291.05999999999995" y="1234.0" font-family="'DejaVu Sans', 'Liberation Sans', sans-serif" font-size="83.33" text-anchor="end" fill="#000">1.0</text>
<line x1="349.0" y1="1952.5" x2="349.0" y2="1981.67" stroke="#000" stroke-width="6.67"/>
<text x="349.0" y="2074.0" font-family="'DejaVu Sans', 'Liberation Sans', sans-serif" font-size="83.33" text-anchor="middle" fill="#000">0</text>
<line x1="814.6666666666667" y1="1952.5" x2="814.6666666666667" y2="1981.67" stroke="#000" stroke-width="6.67"/>
<text x="814.6666666666667" y="2074.0" font-family="'DejaVu Sans', 'Liberation Sans', sans-serif" font-size="83.33" text-anchor="middle" fill="#000">200</text>
<line x1="1280.3333333333335" y1="1952.5" x2="1280.3333333333335" y2="1981.67" stroke="#000" stroke-width="6.67"/>
<text x="1280.3333333333335" y="2074.0" font-family="'DejaVu Sans', 'Liberation Sans', sans-serif" font-size="83.33" text-anchor="middle" fill="#000">400</text>
<line x1="1746.0" y1="1952.5" x2="1746.0" y2="1981.67" stroke="#000" stroke-width="6.67"/>
<text x="1746.0" y="2074.0" font-family="'DejaVu Sans', 'Liberation Sans', sans-serif" font-size="83.33" text-anchor="middle" fill="#000">600</text>
<text transform="translate(105.4,1559.0) rotate(-90)" x="0" y="0" font-family="'DejaVu Sans', 'Liberation Sans', sans-serif" font-size="83.33" text-anchor="middle" fill="#000">empirical CDF</text>
<text x="22.6" y="1127.3" font-family="'DejaVu Sans', 'Liberation Sans', sans-serif" font-size="83.33" font-weight="bold" fill="#000">B</text>
<text x="143.5" y="1127.3" font-family="'DejaVu Sans', 'Liberation Sans', sans-serif" font-size="83.33" font-weight="bold" fill="#000">DLA</text>
<rect x="1067" y="1510.0" width="643.5" height="409.0" rx="14" ry="14" fill="#ffffff" fill-opacity="0.8" stroke="#d6d6d6" stroke-width="7.67"/>
<line x1="1087" y1="1563.9" x2="1234" y2="1563.9" stroke="#1f77b4" stroke-width="11.5"/>
<text x="1278.8" y="1586.4" font-family="'DejaVu Sans', 'Liberation Sans', sans-serif" font-size="66.67" fill="#000">1d (N=109)</text>
<line x1="1087" y1="1661.0" x2="1234" y2="1661.0" stroke="#ff7f0e" stroke-width="11.5"/>
<text x="1278.8" y="1683.5" font-family="'DejaVu Sans', 'Liberation Sans', sans-serif" font-size="66.67" fill="#000">2d (N=64)</text>
<line x1="1087" y1="1758.1000000000001" x2="1234" y2="1758.1000000000001" stroke="#2ca02c" stroke-width="11.5"/>
<text x="1278.8" y="1780.6000000000001" font-family="'DejaVu Sans', 'Liberation Sans', sans-serif" font-size="66.67" fill="#000">3d (N=80)</text>
<line x1="1087" y1="1855.2" x2="1234" y2="1855.2" stroke="#d62728" stroke-width="11.5"/>
<text x="1278.8" y="1877.7" font-family="'DejaVu Sans', 'Liberation Sans', sans-serif" font-size="66.67" fill="#000">≥4d (N=69)</text>
<text x="1047.5" y="2189" font-family="'DejaVu Sans', 'Liberation Sans', sans-serif" font-size="83.33" text-anchor="middle" fill="#000">Total events (x 1000)</text>
</svg>
</div></body></html>
